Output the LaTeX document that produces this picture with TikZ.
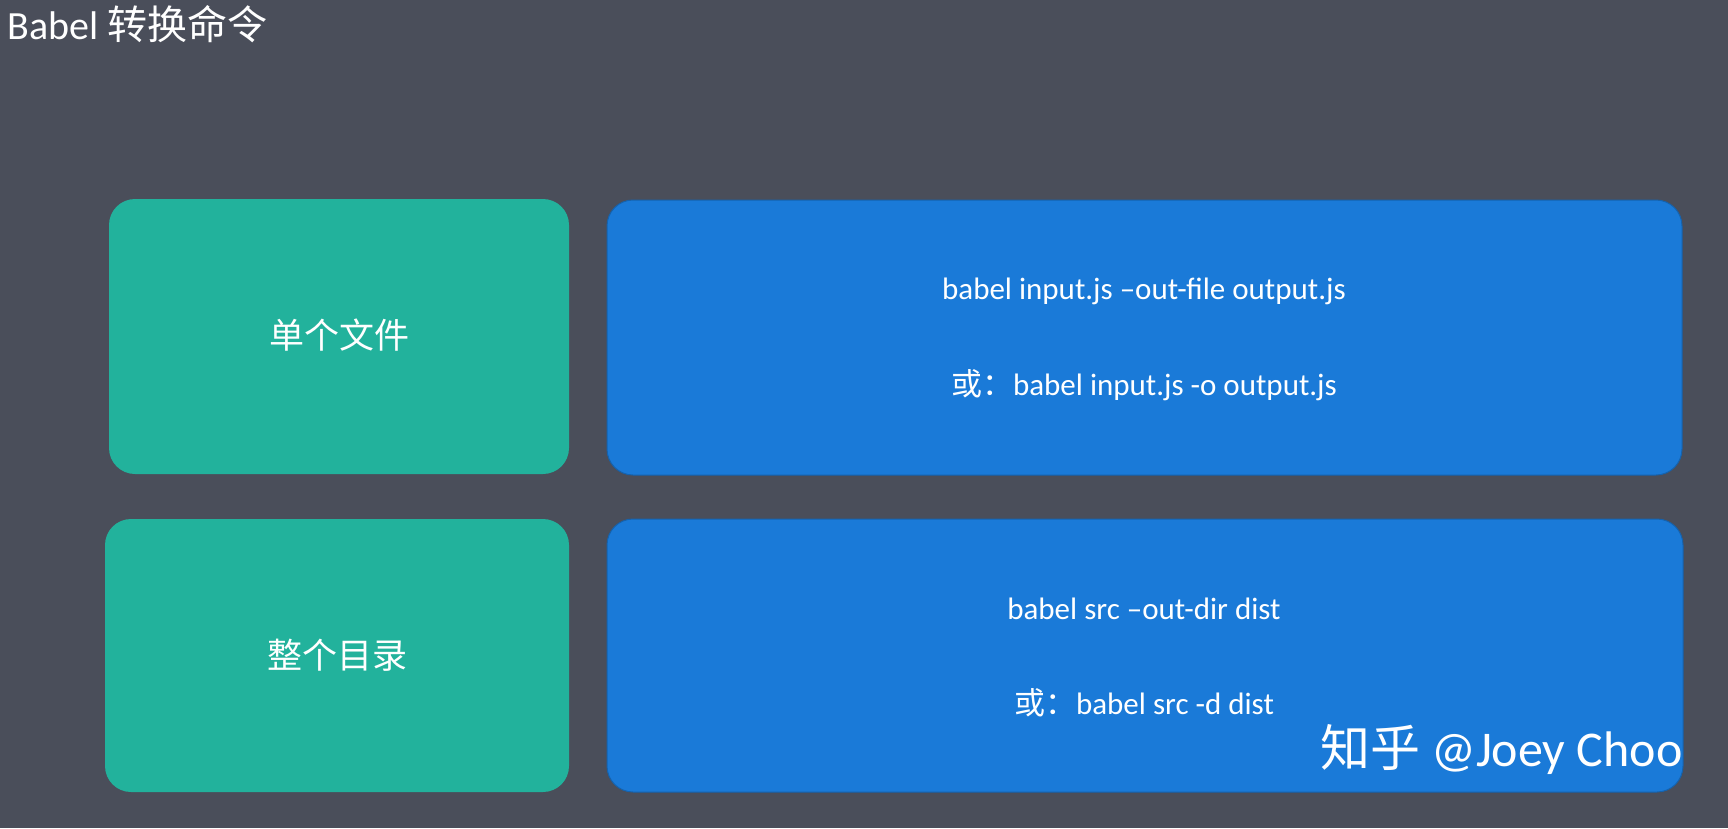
\documentclass[tikz,border=0pt]{standalone}
\usepackage{fontspec}
\setmainfont{Carlito}
\newfontfamily\cjk{Noto Sans CJK SC}
\definecolor{bg}{HTML}{4A4E5A}
\definecolor{gbox}{HTML}{22B29C}
\definecolor{bbox}{HTML}{1A7AD8}
\begin{document}
\begin{tikzpicture}[x=1pt,y=-1pt,
  gb/.style={fill=gbox,rounded corners=26pt},
  bb/.style={fill=bbox,draw=bbox!80!black,line width=1pt,rounded corners=26pt},
  lab/.style={text=white,font=\cjk\fontsize{35}{40}\selectfont},
  cmd/.style={text=white,font=\fontsize{31}{36}\selectfont}]
\fill[bg] (0,0) rectangle (1728,828);
\useasboundingbox (0,0) rectangle (1728,828);
\node[anchor=west,text=white,font=\fontsize{40}{44}\selectfont] (title) at (4,24) {Babel {\cjk 转换命令}};
\path[gb] (109,199) rectangle (569,474);
\path[bb] (607,200) rectangle (1682,475);
\path[gb] (105,519) rectangle (569,792);
\path[bb] (607,519) rectangle (1683,792);
\node[lab] (l1) at (339,335) {单个文件};
\node[lab] (l2) at (337,655) {整个目录};
\node[cmd] (c1) at (1144,291) {babel input.js --out-file output.js};
\node[cmd] (c2) at (1144,385) {{\cjk 或：}babel input.js -o output.js};
\node[cmd] (c3) at (1144,609) {babel src --out-dir dist};
\node[cmd] (c4) at (1144,703) {{\cjk 或：}babel src -d dist};
\node[anchor=east,text=white,font=\fontsize{50}{56}\selectfont] (wm) at (1686,749) {{\cjk 知乎} @Joey Choo};
\end{tikzpicture}
\end{document}
